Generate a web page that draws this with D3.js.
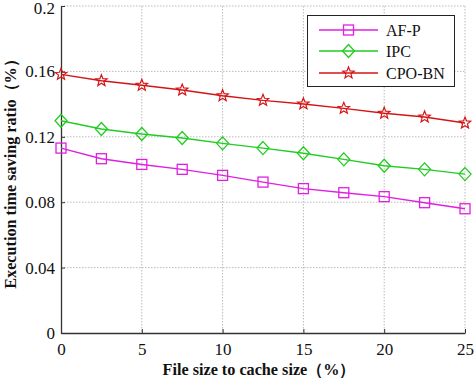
<!DOCTYPE html>
<html><head><meta charset="utf-8">
<script src="https://cdn.jsdelivr.net/npm/d3@7"></script>
<style>body{margin:0;background:#fff}svg{display:block}</style>
</head><body>
<svg id="c" width="474" height="379"></svg>
<script>
const xValues = [0, 2.5, 5, 7.5, 10, 12.5, 15, 17.5, 20, 22.5, 25];
const afp   = [0.1131, 0.1066, 0.1031, 0.1001, 0.0964, 0.0923, 0.0883, 0.0858, 0.0834, 0.0797, 0.0760];
const ipc   = [0.1298, 0.1248, 0.1217, 0.1193, 0.1160, 0.1131, 0.1099, 0.1062, 0.1023, 0.1001, 0.0972];
const cpobn = [0.1582, 0.1543, 0.1515, 0.1486, 0.1451, 0.1423, 0.1401, 0.1374, 0.1344, 0.1321, 0.1284];
const seriesNames = ["AF-P", "IPC", "CPO-BN"];
const xTicks = [0, 5, 10, 15, 20, 25];
const yTicks = [0, 0.04, 0.08, 0.12, 0.16, 0.2];
const yTickLabels = ["0", "0.04", "0.08", "0.12", "0.16", "0.2"];
const xLabel = "File size to cache size（%）";
const yLabel = "Execution time saving ratio（%）";

const series = [
  {name: seriesNames[0], values: afp, color: "#e020e0", shape: "square"},
  {name: seriesNames[1], values: ipc, color: "#22cc22", shape: "diamond"},
  {name: seriesNames[2], values: cpobn, color: "#d41515", shape: "star"}
];

const svg = d3.select("#c");
const L = 61, R = 465, T = 6, B = 333;
const x = d3.scaleLinear().domain([0, 25]).range([L, R]);
const y = d3.scaleLinear().domain([0, 0.2]).range([B, T]);
const font = "'Liberation Serif','Times New Roman',serif";

// grid
const g = svg.append("g");
g.selectAll(".gx").data(xTicks.slice(1)).enter().append("line")
  .attr("x1", d => x(d)).attr("x2", d => x(d)).attr("y1", T).attr("y2", B)
  .attr("stroke", "#bbb").attr("stroke-width", 1).attr("stroke-dasharray", "1.5,1.5");
g.selectAll(".gy").data(yTicks.slice(1)).enter().append("line")
  .attr("x1", L).attr("x2", R).attr("y1", d => y(d)).attr("y2", d => y(d))
  .attr("stroke", "#bbb").attr("stroke-width", 1).attr("stroke-dasharray", "1.5,1.5");

// axes
const xa = svg.append("g").attr("transform", `translate(0,${B})`)
  .call(d3.axisBottom(x).tickValues(xTicks).tickSizeInner(-4).tickSizeOuter(0).tickPadding(10));
const ya = svg.append("g").attr("transform", `translate(${L},0)`)
  .call(d3.axisLeft(y).tickValues(yTicks).tickFormat((d, i) => yTickLabels[i]).tickSizeInner(-4).tickSizeOuter(0).tickPadding(6));
[xa, ya].forEach(a => {
  a.select(".domain").attr("stroke", "#333").attr("stroke-width", 1.3);
  a.selectAll(".tick line").attr("stroke", "#333");
  a.selectAll("text").attr("font-family", font).attr("font-size", 17).attr("fill", "#111");
});
xa.selectAll("text").attr("dy", "0.71em");
ya.selectAll("text").filter((d, i) => i === yTicks.length - 1).attr("dy", "0.42em");

// marker symbols
function marker(sel, shape, color) {
  if (shape === "square") {
    sel.append("rect").attr("x", -5).attr("y", -5).attr("width", 10).attr("height", 10)
      .attr("fill", "none").attr("stroke", color).attr("stroke-width", 1.3);
  } else if (shape === "diamond") {
    sel.append("path").attr("d", "M0,-6.5L6,0L0,6.5L-6,0Z")
      .attr("fill", "none").attr("stroke", color).attr("stroke-width", 1.3);
  } else {
    const pts = [];
    for (let i = 0; i < 10; i++) {
      const r = i % 2 === 0 ? 6 : 2.6;
      const a = -Math.PI / 2 + i * Math.PI / 5;
      pts.push([r * Math.cos(a), r * Math.sin(a)]);
    }
    sel.append("path").attr("d", "M" + pts.map(p => p.join(",")).join("L") + "Z")
      .attr("fill", "none").attr("stroke", color).attr("stroke-width", 1.2);
  }
}

const line = d3.line().x((d, i) => x(xValues[i])).y(d => y(d));
series.forEach(s => {
  svg.append("path").datum(s.values).attr("d", line)
    .attr("fill", "none").attr("stroke", s.color).attr("stroke-width", 1.4);
  s.values.forEach((v, i) => {
    const m = svg.append("g").attr("transform", `translate(${x(xValues[i])},${y(v)})`);
    marker(m, s.shape, s.color);
  });
});

// legend
const lg = svg.append("g");
lg.append("rect").attr("x", 307.5).attr("y", 15.5).attr("width", 147).attr("height", 71)
  .attr("fill", "#fff").attr("stroke", "#222").attr("stroke-width", 1);
const rows = [30, 51, 73];
series.forEach((s, i) => {
  lg.append("line").attr("x1", 319).attr("x2", 378).attr("y1", rows[i]).attr("y2", rows[i])
    .attr("stroke", s.color).attr("stroke-width", 1.4);
  const m = lg.append("g").attr("transform", `translate(348.5,${rows[i]})`);
  marker(m, s.shape, s.color);
  lg.append("text").attr("x", 386).attr("y", rows[i]).attr("dy", "0.35em")
    .attr("font-family", font).attr("font-size", 16).attr("fill", "#111").text(s.name);
});

// axis labels
svg.append("text").attr("x", 259).attr("y", 375).attr("text-anchor", "middle")
  .attr("font-family", font).attr("font-weight", "bold").attr("font-size", 16.2).attr("fill", "#111")
  .text(xLabel);
svg.append("text").attr("transform", "translate(16,170) rotate(-90)").attr("text-anchor", "middle")
  .attr("font-family", font).attr("font-weight", "bold").attr("font-size", 16.2).attr("fill", "#111")
  .text(yLabel);
</script>
</body></html>
